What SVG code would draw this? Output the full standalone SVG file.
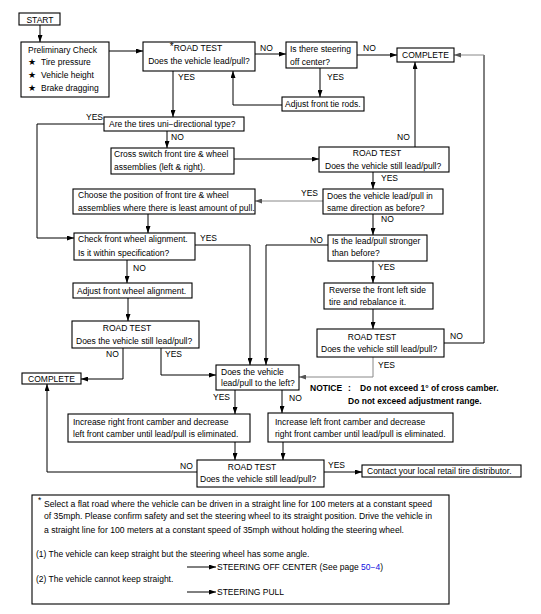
<svg xmlns="http://www.w3.org/2000/svg" width="541" height="614" viewBox="0 0 541 614">
<defs>
<style>
text{font-family:"Liberation Sans",Arial,sans-serif;font-size:8.5px;fill:#000}
.c{text-anchor:middle}
.b{font-weight:bold}
rect{fill:#fff;stroke:#000;stroke-width:1.1}
.ln{fill:none;stroke:#000;stroke-width:1}
.gl{fill:none;stroke:#888;stroke-width:1}
</style>
<marker id="a" markerWidth="7" markerHeight="5" refX="7" refY="2.5" orient="auto" markerUnits="userSpaceOnUse"><path d="M0,0 L7,2.5 L0,5 z" fill="#000"/></marker>
<marker id="g" markerWidth="7" markerHeight="5" refX="7" refY="2.5" orient="auto" markerUnits="userSpaceOnUse"><path d="M0,0 L7,2.5 L0,5 z" fill="#555"/></marker>
</defs>
<rect x="0" y="0" width="541" height="614" style="fill:#fff;stroke:none"/>

<g id="connectors">
<path class="ln" d="M40,25 V42" marker-end="url(#a)"/>
<path class="ln" d="M109,51 H143" marker-end="url(#a)"/>
<path class="ln" d="M255,54 H286" marker-end="url(#a)"/>
<path class="ln" d="M357,55 H397" marker-end="url(#a)"/>
<path class="ln" d="M320,68 V97" marker-end="url(#a)"/>
<path class="ln" d="M282,105 H233 V71" marker-end="url(#a)"/>
<path class="ln" d="M173,71 V117" marker-end="url(#a)"/>
<path class="ln" d="M104,124 H37 V238 H74" marker-end="url(#a)"/>
<path class="ln" d="M167,131 V148" marker-end="url(#a)"/>
<path class="ln" d="M234,159 H319" marker-end="url(#a)"/>
<path class="ln" d="M415,147 V62" marker-end="url(#a)"/>
<path class="ln" d="M373,172 V189" marker-end="url(#a)"/>
<path class="gl" d="M323,201 H255" marker-end="url(#g)"/>
<path class="ln" d="M148,214 V233" marker-end="url(#a)"/>
<path class="ln" d="M373,214 V235" marker-end="url(#a)"/>
<path class="ln" d="M328,245 H266 V365" marker-end="url(#a)"/>
<path class="ln" d="M373,261 V283" marker-end="url(#a)"/>
<path class="ln" d="M373,309 V329" marker-end="url(#a)"/>
<path class="ln" d="M444,343 H484 V55"/>
<path class="gl" d="M484,55 H454" marker-end="url(#g)"/>
<path class="gl" d="M373,357 V377 H299" marker-end="url(#g)"/>
<path class="ln" d="M195,245 H250 V365" marker-end="url(#a)"/>
<path class="ln" d="M127,260 V283" marker-end="url(#a)"/>
<path class="ln" d="M128,298 V321" marker-end="url(#a)"/>
<path class="ln" d="M123,348 V379 H81" marker-end="url(#a)"/>
<path class="ln" d="M161,348 V375 H216" marker-end="url(#a)"/>
<path class="ln" d="M235,390 V414" marker-end="url(#a)"/>
<path class="ln" d="M282,390 V413" marker-end="url(#a)"/>
<path class="ln" d="M235,442 V460" marker-end="url(#a)"/>
<path class="ln" d="M283,442 V460" marker-end="url(#a)"/>
<path class="ln" d="M197,472 H47 V384" marker-end="url(#a)"/>
<path class="ln" d="M324,472 H362" marker-end="url(#a)"/>
</g>

<g id="labels">
<text x="260" y="51">NO</text>
<text x="178" y="80">YES</text>
<text x="363" y="51">NO</text>
<text x="327" y="80">YES</text>
<text x="86" y="120">YES</text>
<text x="171" y="140">NO</text>
<text x="397" y="140">NO</text>
<text x="381" y="181">YES</text>
<text x="301" y="196">YES</text>
<text x="381" y="222">NO</text>
<text x="310" y="243">NO</text>
<text x="200" y="241">YES</text>
<text x="133" y="271">NO</text>
<text x="378" y="270">YES</text>
<text x="450" y="339">NO</text>
<text x="106" y="357">NO</text>
<text x="165" y="357">YES</text>
<text x="378" y="368">YES</text>
<text x="213" y="400">YES</text>
<text x="289" y="401">NO</text>
<text x="180" y="469">NO</text>
<text x="328" y="468">YES</text>
</g>

<g id="start"><rect x="19" y="13" width="41" height="12"/><text class="c" x="40" y="22.5">START</text></g>
<g id="prelim"><rect x="21" y="42" width="88" height="55"/>
<text x="28" y="53">Preliminary Check</text>
<text x="28" y="65">★</text><text x="41" y="65">Tire pressure</text>
<text x="28" y="77.5">★</text><text x="41" y="77.5">Vehicle height</text>
<text x="28" y="91">★</text><text x="41" y="91">Brake dragging</text></g>
<g id="roadtest1"><rect x="143" y="42" width="112" height="29"/>
<text class="c" x="196" y="51"><tspan dy="-1" font-size="10">*</tspan><tspan dy="1">ROAD TEST</tspan></text>
<text class="c" x="199" y="64">Does the vehicle lead/pull?</text></g>
<g id="steering"><rect x="286" y="42" width="71" height="26"/>
<text x="290" y="52">Is there steering</text><text x="290" y="64.5">off center?</text></g>
<g id="complete1"><rect x="397" y="48" width="57" height="14"/><text class="c" x="425.5" y="58">COMPLETE</text></g>
<g id="tierods"><rect x="282" y="97" width="82" height="14"/><text x="285" y="107">Adjust front tie rods.</text></g>
<g id="unidir"><rect x="104" y="117" width="140" height="14"/><text x="109" y="127">Are the tires uni−directional type?</text></g>
<g id="cross"><rect x="111" y="148" width="123" height="26"/>
<text x="114" y="157">Cross switch front tire &amp; wheel</text><text x="114" y="170">assemblies (left &amp; right).</text></g>
<g id="roadtest2"><rect x="319" y="147" width="130" height="25"/>
<text class="c" x="377" y="156">ROAD TEST</text><text x="325" y="169">Does the vehicle still lead/pull?</text></g>
<g id="samedir"><rect x="323" y="189" width="120" height="25"/>
<text x="327" y="199">Does the vehicle lead/pull in</text><text x="327" y="211">same direction as before?</text></g>
<g id="choose"><rect x="73" y="189" width="182" height="25"/>
<text x="78" y="198">Choose the position of front tire &amp; wheel</text><text x="78" y="211">assemblies where there is least amount of pull.</text></g>
<g id="checkalign"><rect x="74" y="233" width="121" height="27"/>
<text x="78" y="242">Check front wheel alignment.</text><text x="78" y="256">Is it within specification?</text></g>
<g id="stronger"><rect x="328" y="235" width="99" height="26"/>
<text x="332" y="244">Is the lead/pull stronger</text><text x="332" y="256">than before?</text></g>
<g id="adjustalign"><rect x="73" y="283" width="119" height="15"/><text x="77" y="293.5">Adjust front wheel alignment.</text></g>
<g id="reverse"><rect x="324" y="283" width="109" height="26"/>
<text x="329" y="293">Reverse the front left side</text><text x="329" y="305">tire and rebalance it.</text></g>
<g id="roadtest3"><rect x="72" y="321" width="127" height="27"/>
<text class="c" x="127" y="331">ROAD TEST</text><text x="76" y="344">Does the vehicle still lead/pull?</text></g>
<g id="roadtest4"><rect x="317" y="329" width="127" height="28"/>
<text class="c" x="372" y="340">ROAD TEST</text><text x="321" y="352">Does the vehicle still lead/pull?</text></g>
<g id="complete2"><rect x="22" y="373" width="59" height="11"/><text class="c" x="51.5" y="382">COMPLETE</text></g>
<g id="leadleft"><rect x="216" y="365" width="83" height="25"/>
<text x="221" y="375">Does the vehicle</text><text x="221" y="386">lead/pull to the left?</text></g>
<g id="notice">
<text class="b" x="310" y="391">NOTICE</text>
<text class="b" x="348" y="391">:</text>
<text class="b" x="360" y="391">Do not exceed 1° of cross camber.</text>
<text class="b" x="348" y="404">Do not exceed adjustment range.</text></g>
<g id="rightcamber"><rect x="68" y="414" width="182" height="28"/>
<text x="73" y="425">Increase right front camber and decrease</text><text x="73" y="437">left front camber until lead/pull is eliminated.</text></g>
<g id="leftcamber"><rect x="268" y="413" width="185" height="29"/>
<text x="275" y="425">Increase left front camber and decrease</text><text x="275" y="437">right front camber until lead/pull is eliminated.</text></g>
<g id="roadtest5"><rect x="197" y="460" width="127" height="27"/>
<text class="c" x="252" y="470">ROAD TEST</text><text x="200" y="482">Does the vehicle still lead/pull?</text></g>
<g id="contact"><rect x="362" y="465" width="159" height="12"/><text x="367" y="474">Contact your local retail tire distributor.</text></g>

<g id="note"><rect x="32" y="495" width="417" height="109"/>
<text x="38" y="503" font-size="10">*</text>
<text x="44" y="507" textLength="388" lengthAdjust="spacingAndGlyphs">Select a flat road where the vehicle can be driven in a straight line for 100 meters at a constant speed</text>
<text x="44" y="519" textLength="388" lengthAdjust="spacingAndGlyphs">of 35mph. Please confirm safety and set the steering wheel to its straight position. Drive the vehicle in</text>
<text x="44" y="533" textLength="360" lengthAdjust="spacingAndGlyphs">a straight line for 100 meters at a constant speed of 35mph without holding the steering wheel.</text>
<text x="36" y="557" font-size="8.7">(1) The vehicle can keep straight but the steering wheel has some angle.</text>
<path class="ln" d="M187,567 H216" marker-end="url(#a)"/>
<text x="217" y="570" font-size="8.7">STEERING OFF CENTER (See page <tspan fill="#1010e0">50−4</tspan>)</text>
<text x="36" y="582" font-size="8.7">(2) The vehicle cannot keep straight.</text>
<path class="ln" d="M187,592 H216" marker-end="url(#a)"/>
<text x="217" y="595" font-size="8.7">STEERING PULL</text>
</g>
</svg>
